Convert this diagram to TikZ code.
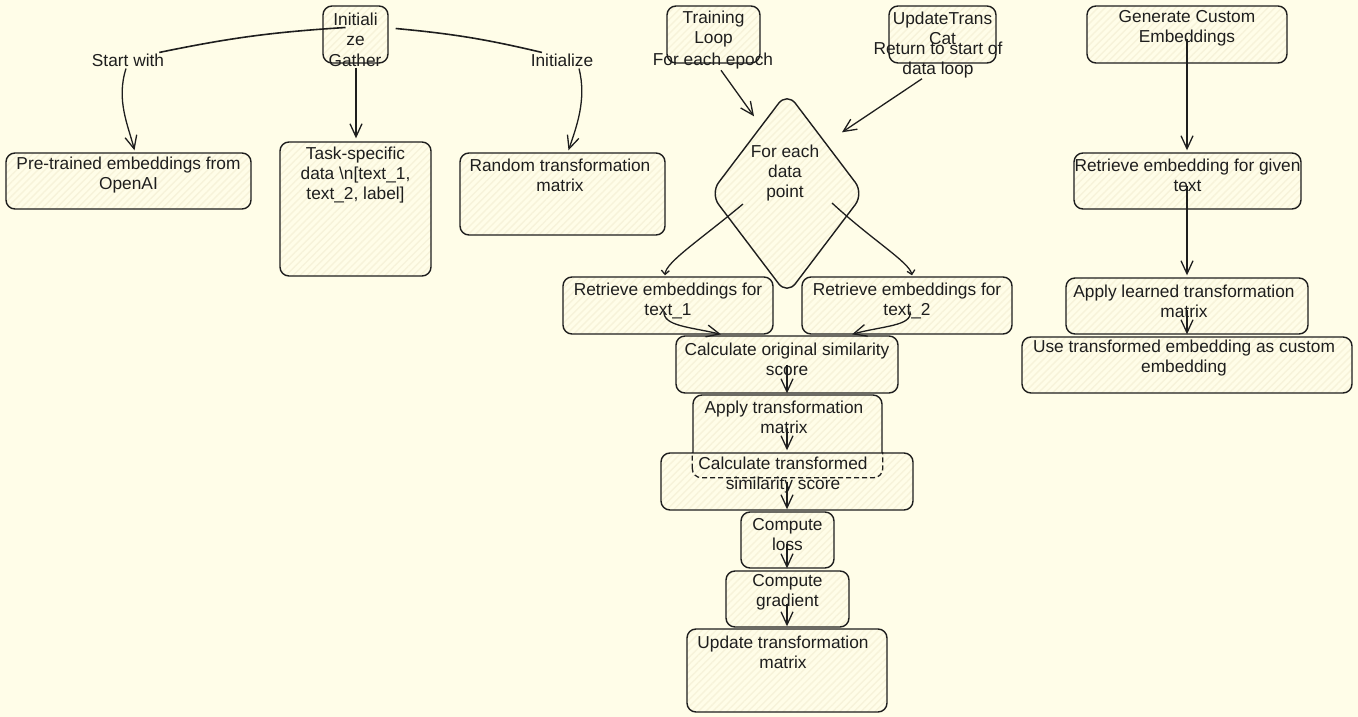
\documentclass[tikz,border=0pt]{standalone}
\usepackage{fontspec}
\setmainfont{Liberation Sans}
\usetikzlibrary{arrows.meta,shapes.geometric,patterns.meta,calc}
\definecolor{bg}{HTML}{FFFDE8}
\definecolor{ink}{HTML}{1E1E1E}
\definecolor{hatch}{HTML}{F7F3DA}
\begin{document}
\begin{tikzpicture}[x=1pt,y=-1pt,
  font=\fontsize{17.3}{20}\selectfont,
  box/.style={draw=ink, line width=1.4pt, rounded corners=9pt, inner sep=0pt,
    preaction={fill=bg},
    pattern={Lines[angle=45,distance=5pt,line width=1.4pt]}, pattern color=hatch},
  txt/.style={align=center, inner sep=0pt, text=ink},
  lbl/.style={inner sep=1pt, text=ink},
  arr/.style={draw=ink, line width=1.3pt, -{Straight Barb[length=13pt,width=12pt]}},
  tinyarr/.style={draw=ink, line width=1.3pt, -{Straight Barb[length=4pt,width=8pt]}}]
\useasboundingbox (0,0) rectangle (1358,717);
\fill[bg] (0,0) rectangle (1358,717);

% boxes
\node[box, minimum width=65pt, minimum height=57pt] (init) at (355.5,34.5) {};
\node[box, minimum width=245pt, minimum height=56pt] (pre) at (128.5,181) {};
\node[box, minimum width=151pt, minimum height=134pt] (task) at (355.5,209) {};
\node[box, minimum width=205pt, minimum height=82pt] (rand) at (562.5,194) {};
\node[box, minimum width=93pt, minimum height=57pt] (train) at (713.5,34.5) {};
\node[box, minimum width=107pt, minimum height=57pt] (upd) at (942.5,34.5) {};
\node[box, minimum width=200pt, minimum height=57pt] (gen) at (1187,34.5) {};
\node[box, diamond, minimum width=154pt, minimum height=203pt, rounded corners=14pt] (dia) at (787,193.5) {};
\node[box, minimum width=210pt, minimum height=57pt] (r1) at (668,305.5) {};
\node[box, minimum width=210pt, minimum height=57pt] (r2) at (907,305.5) {};
\node[box, minimum width=222pt, minimum height=57pt] (co) at (787,364.5) {};
\node[box, minimum width=189pt, minimum height=82pt] (ap) at (787.5,436) {};
\node[txt] (apT) at (784,417) {Apply transformation\\matrix};
\node[box, minimum width=252pt, minimum height=57pt] (ct) at (787,481.5) {};
\begin{scope}
  \clip (ct.north west) rectangle (ct.south east);
  \draw[ink, line width=1.3pt, dash pattern=on 5pt off 3pt, rounded corners=9pt]
    (ap.south west) rectangle (ap.north east);
\end{scope}
\node[box, minimum width=93pt, minimum height=56pt] (lo) at (787.5,540) {};
\node[box, minimum width=123pt, minimum height=56pt] (gr) at (787.5,599) {};
\node[box, minimum width=200pt, minimum height=83pt] (up) at (787,670.5) {};
\node[box, minimum width=227pt, minimum height=56pt] (rg) at (1187.5,181) {};
\node[box, minimum width=242pt, minimum height=56pt] (al) at (1187,306) {};
\node[box, minimum width=330pt, minimum height=56pt] (ut) at (1187,365) {};

% texts
\node[txt] (initT) at (355.5,29) {Initiali\\ze};
\node[txt] (preT) at (128.5,175) {Pre-trained embeddings from\\OpenAI};
\node[txt] (taskT) at (355.5,175) {Task-specific\\data \textbackslash n[text\_1,\\text\_2, label]};
\node[txt] (randT) at (560,175) {Random transformation\\matrix};
\node[txt] (trainT) at (713.5,29) {Training\\Loop};
\node[txt] (updT) at (942.5,28.5) {UpdateTrans\\Cat};
\node[txt] (genT) at (1187,28.5) {Generate Custom\\Embeddings};
\node[txt] (diaT) at (785,173) {For each\\data\\point};
\node[txt] (r1T) at (668,300.5) {Retrieve embeddings for\\text\_1};
\node[txt] (r2T) at (907,300.5) {Retrieve embeddings for\\text\_2};
\node[txt] (coT) at (787,359) {Calculate original similarity\\score};
\node[txt] (ctT) at (783,475.5) {Calculate transformed\\similarity score};
\node[txt] (loT) at (787.5,534.5) {Compute\\loss};
\node[txt] (grT) at (787.5,592.5) {Compute\\gradient};
\node[txt] (upT) at (783,652) {Update transformation\\matrix};
\node[txt] (rgT) at (1187.5,175) {Retrieve embedding for given\\text};
\node[txt] (alT) at (1184,301) {Apply learned transformation\\matrix};
\node[txt] (utT) at (1184,358.5) {Use transformed embedding as custom\\embedding};

% edge labels
\node[lbl] (lbStart) at (128,60) {Start with};
\node[lbl] (lbGather) at (355,60) {Gather};
\node[lbl] (lbInit) at (562,60) {Initialize};
\node[lbl] (lbEpoch) at (713,61) {For each epoch};
\node[txt] (lbRet) at (938,60.5) {Return to start of\\data loop};

% connectors
\draw[draw=ink, line width=1.6pt] ($(init.center)+(-10,-7)$) to[bend right=4] ($(lbStart.north east)+(-6,0)$);
\draw[arr] ($(lbStart.south)+(-2,1)$) .. controls (116,100) and (128,125) .. ($(pre.north)+(6,-2)$);
\draw[arr] ($(lbGather.south)+(1,0)$) -- ($(task.north)+(0.5,-3)$);
\draw[draw=ink, line width=1.6pt] ($(init.east)+(7,-6)$) to[bend left=4] ($(lbInit.north)+(-20,0)$);
\draw[arr] ($(lbInit.south)+(17,1)$) .. controls (587,100) and (576,128) .. ($(rand.north)+(6,-2)$);
\draw[arr] ($(lbEpoch.south)+(8,0)$) -- ($(dia.north)+(-33,25)$);
\draw[arr] ($(lbRet.south)+(-16,0)$) -- ($(dia.north)+(55,41)$);
\draw[arr] ($(gen.center)+(0,5)$) -- ($(rg.north)+(-0.5,-2)$);
\draw[tinyarr] ($(dia.center)+(-44,10.5)$) .. controls (700,240) and (666,262) .. ($(r1.north)+(-3,-1)$);
\draw[tinyarr] ($(dia.center)+(45,9.5)$) .. controls (872,240) and (909,262) .. ($(r2.north)+(5,-1)$);
\draw[arr] ($(r1.center)+(-4,6)$) .. controls (663,326) and (690,327) .. ($(co.north)+(-66,-1)$);
\draw[arr] ($(r2.center)+(3,6)$) .. controls (913,326) and (882,326) .. ($(co.north)+(65,-1)$);
\draw[arr] (co.center) -- ($(ap.north)+(-0.5,-1)$);
\draw[arr] ($(ap.center)+(-0.5,-8)$) -- ($(ct.north)+(0,-2)$);
\draw[arr] (ct.center) -- ($(lo.north)+(-0.5,-2)$);
\draw[arr] ($(lo.center)+(-0.5,4)$) -- ($(gr.north)+(-0.5,-2)$);
\draw[arr] ($(gr.center)+(-0.5,5)$) -- ($(up.north)+(0,-2)$);
\draw[arr] ($(rg.center)+(-0.5,5)$) -- ($(al.north)+(0,-2)$);
\draw[arr] ($(al.center)+(0,4)$) -- ($(ut.north)+(0,-2)$);
\end{tikzpicture}
\end{document}
